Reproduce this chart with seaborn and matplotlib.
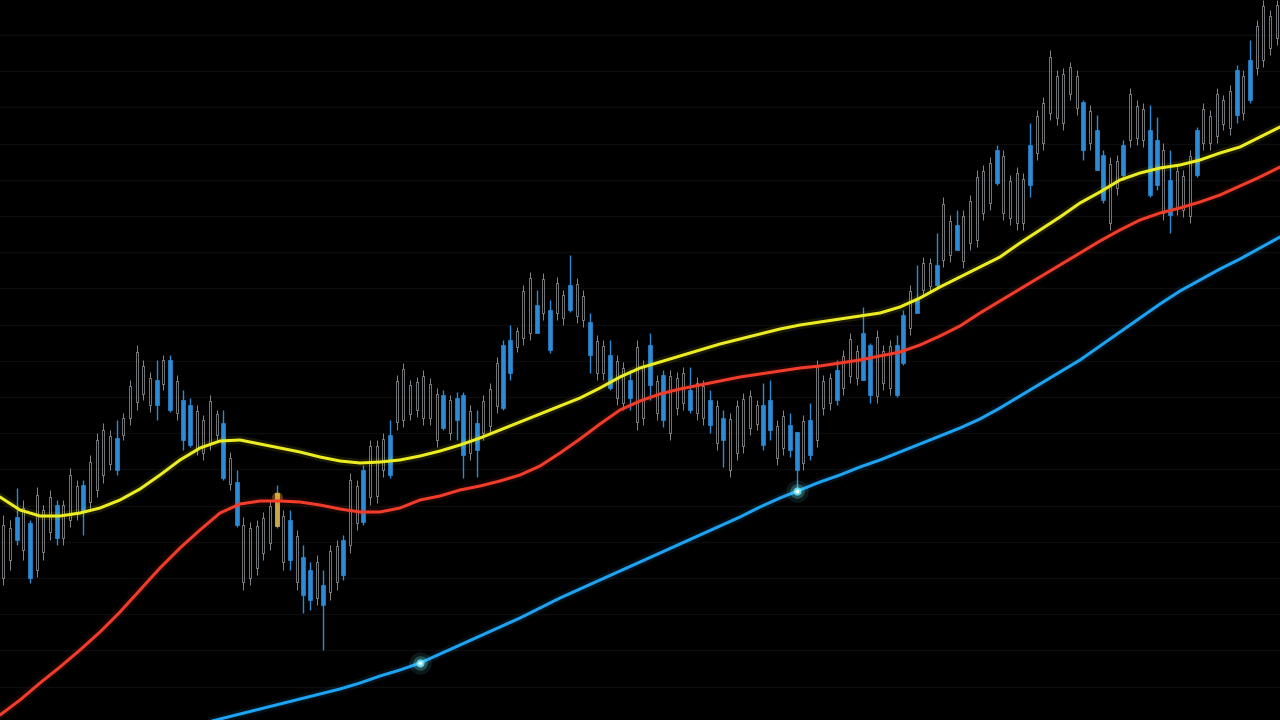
#!/usr/bin/env python3
"""Dark candlestick chart with three smooth moving averages."""
import matplotlib
matplotlib.use("Agg")
import matplotlib.pyplot as plt
import numpy as np
import pandas as pd
import seaborn as sns

# candles (price units, one per bar)
high = [205, 200, 232, 220, 200, 233, 215, 230, 220, 220, 252, 240, 240, 265, 287, 297,
        290, 300, 307, 340, 375, 360, 348, 360, 365, 365, 345, 330, 322, 315, 305, 325,
        310, 310, 268, 250, 203, 198, 200, 208, 220, 235, 210, 210, 190, 175, 158, 165,
        150, 175, 180, 185, 247, 240, 255, 280, 280, 287, 300, 345, 357, 340, 343, 350,
        342, 332, 330, 325, 328, 328, 315, 310, 325, 337, 363, 380, 395, 393, 435, 448,
        430, 447, 420, 443, 430, 465, 442, 430, 407, 385, 380, 380, 365, 358, 350, 380,
        360, 387, 345, 350, 350, 348, 353, 353, 343, 340, 330, 320, 310, 307, 320, 327,
        330, 320, 337, 340, 300, 310, 307, 288, 305, 317, 360, 345, 347, 360, 370, 387,
        375, 413, 377, 390, 375, 380, 385, 410, 435, 455, 463, 462, 487, 523, 505, 510,
        510, 525, 550, 555, 563, 575, 570, 545, 553, 547, 597, 610, 623, 670, 650, 652,
        658, 650, 620, 615, 605, 570, 563, 565, 580, 632, 620, 617, 615, 603, 577, 570,
        555, 550, 570, 593, 617, 610, 632, 625, 635, 655, 650, 680, 700, 720, 710, 720]
low = [135, 150, 175, 160, 137, 143, 160, 180, 175, 175, 193, 200, 185, 210, 223, 237,
       250, 245, 280, 295, 310, 320, 308, 300, 330, 308, 300, 270, 273, 265, 260, 270,
       280, 240, 230, 193, 130, 135, 145, 160, 170, 192, 150, 150, 130, 107, 110, 115,
       70, 120, 130, 140, 167, 190, 195, 215, 217, 243, 242, 290, 293, 300, 303, 295,
       295, 273, 290, 280, 280, 242, 260, 243, 280, 287, 307, 310, 340, 368, 375, 380,
       387, 400, 367, 400, 395, 408, 397, 393, 347, 340, 340, 330, 315, 310, 310, 290,
       295, 320, 300, 293, 280, 305, 310, 307, 300, 295, 287, 270, 253, 243, 260, 267,
       285, 290, 270, 280, 255, 265, 263, 230, 250, 260, 273, 305, 310, 315, 325, 337,
       335, 340, 317, 317, 330, 325, 323, 355, 385, 407, 423, 428, 433, 453, 458, 470,
       452, 470, 473, 500, 510, 535, 500, 495, 490, 490, 523, 560, 570, 600, 595, 590,
       620, 605, 560, 570, 550, 517, 490, 525, 540, 573, 575, 573, 523, 530, 500, 487,
       505, 503, 497, 543, 570, 570, 577, 590, 585, 597, 600, 617, 645, 653, 665, 675]
open_ = [142, 160, 203, 170, 197, 150, 168, 188, 215, 182, 200, 206, 235, 218, 230, 245,
         256, 282, 285, 302, 318, 326, 315, 340, 336, 360, 307, 320, 315, 272, 267, 277,
         285, 297, 236, 238, 138, 142, 152, 167, 177, 227, 158, 200, 138, 163, 150, 122,
         135, 128, 138, 180, 175, 197, 250, 223, 224, 250, 285, 298, 300, 306, 310, 302,
         302, 280, 325, 287, 322, 325, 267, 297, 287, 294, 314, 375, 380, 373, 382, 387,
         415, 407, 410, 407, 402, 435, 404, 400, 398, 347, 347, 365, 322, 317, 340, 298,
         302, 375, 307, 345, 287, 312, 317, 330, 307, 302, 320, 277, 302, 250, 267, 274,
         292, 296, 315, 320, 262, 272, 295, 288, 257, 300, 280, 312, 317, 350, 332, 344,
         342, 387, 375, 324, 337, 332, 375, 405, 392, 420, 430, 434, 455, 460, 465, 495,
         459, 477, 480, 507, 517, 570, 507, 502, 497, 497, 575, 567, 577, 607, 602, 597,
         626, 612, 618, 577, 590, 565, 497, 532, 575, 580, 582, 580, 590, 580, 507, 540,
         512, 510, 504, 590, 577, 577, 584, 596, 592, 650, 607, 660, 652, 660, 672, 682]
close = [195, 192, 180, 212, 142, 225, 210, 223, 182, 215, 245, 234, 208, 258, 280, 290,
         284, 250, 302, 334, 368, 354, 342, 315, 360, 310, 339, 280, 275, 309, 300, 319,
         306, 242, 262, 195, 195, 192, 194, 202, 214, 194, 204, 160, 184, 125, 120, 158,
         115, 169, 174, 145, 240, 234, 198, 274, 274, 281, 245, 339, 351, 335, 338, 344,
         336, 326, 292, 320, 300, 265, 309, 270, 319, 331, 357, 312, 347, 389, 429, 442,
         387, 441, 370, 437, 425, 410, 436, 424, 365, 379, 374, 332, 359, 352, 322, 373,
         354, 335, 339, 300, 344, 342, 347, 310, 337, 334, 295, 314, 280, 301, 314, 321,
         324, 315, 275, 290, 294, 304, 270, 250, 299, 265, 353, 339, 342, 320, 364, 381,
         369, 340, 325, 383, 369, 374, 325, 357, 429, 407, 457, 457, 435, 516, 499, 470,
         504, 519, 543, 549, 557, 537, 564, 539, 547, 541, 535, 604, 617, 663, 644, 646,
         653, 644, 570, 609, 550, 520, 556, 559, 545, 626, 614, 611, 525, 535, 570, 505,
         549, 544, 564, 545, 611, 604, 626, 620, 629, 605, 644, 620, 694, 714, 704, 715]

# moving averages, one value every 3 bars
ma_fast = [223, 210, 204, 204, 207, 212, 220, 231, 245, 260, 272, 279, 280, 276, 272, 268,
           263, 259, 257, 258, 260, 264, 269, 275, 282, 290, 298, 306, 314, 322, 332, 343,
           352, 358, 364, 370, 376, 381, 386, 391, 395, 398, 401, 404, 407, 413, 422, 433,
           443, 453, 463, 477, 490, 503, 517, 528, 540, 547, 552, 555, 560, 567, 573, 583, 593]
ma_mid = [5, 20, 37, 53, 70, 88, 108, 130, 152, 172, 190, 207, 216, 219, 219, 218,
          215, 211, 208, 208, 212, 220, 224, 230, 234, 239, 245, 254, 267, 281, 296, 310,
          319, 326, 331, 335, 339, 343, 346, 349, 352, 354, 357, 360, 364, 368, 375, 384,
          394, 407, 419, 431, 443, 455, 467, 479, 490, 500, 507, 512, 518, 525, 534, 543, 553]
ma_slow = [None] * 10 + [
    -4, 1, 6, 11, 16, 21, 26, 31, 37, 44, 50, 57, 66, 75, 84, 93,
    102, 112, 122, 131, 140, 149, 158, 167, 176, 185, 194, 203, 213, 222, 230, 238,
    245, 253, 260, 268, 276, 284, 292, 301, 312, 324, 336, 348, 360, 374, 388, 402,
    416, 429, 440, 451, 461, 472, 483]
MA_STEP = 3

# touches of the slow average
signal_bar = [62.5, 119]
signal_price = [57, 229]
highlight_bar = [41]

BG = "#000000"
GRID = "#0d0d0d"
BLUE_CANDLE = "#2b8bd6"
WHITE_CANDLE = "#b4b8bc"
LINE_COLORS = {"fast": "#ecec22", "mid": "#f03c28", "slow": "#1ea2f2"}


def main() -> None:
    sns.set_theme(style="dark", rc={"axes.facecolor": BG, "figure.facecolor": BG})

    candles = pd.DataFrame({"high": high, "low": low, "open": open_, "close": close})
    candles["bar"] = np.arange(len(candles))
    candles["top"] = candles[["open", "close"]].max(axis=1)
    candles["bot"] = candles[["open", "close"]].min(axis=1)
    down = candles[candles["close"] < candles["open"]]
    up = candles[candles["close"] >= candles["open"]]
    hl = candles.loc[highlight_bar]

    ma_bar = np.arange(len(ma_fast)) * MA_STEP - 0.5
    ma = pd.concat([
        pd.DataFrame({"bar": ma_bar, "value": ma_fast, "line": "fast"}),
        pd.DataFrame({"bar": ma_bar, "value": ma_mid, "line": "mid"}),
        pd.DataFrame({"bar": ma_bar, "value": pd.to_numeric(pd.Series(ma_slow)), "line": "slow"}),
    ]).dropna()

    fig = plt.figure(figsize=(12.8, 7.2), dpi=100)
    ax = fig.add_axes([0, 0, 1, 1])
    ax.set_facecolor(BG)

    for y in np.arange(685, 0, -36.2):
        ax.axhline(y, color=GRID, lw=1.0, zorder=0)

    # hollow bullish candles
    ax.vlines(up["bar"], up["low"], up["bot"], color=WHITE_CANDLE, lw=0.7, alpha=0.75, zorder=2)
    ax.vlines(up["bar"], up["top"], up["high"], color=WHITE_CANDLE, lw=0.7, alpha=0.75, zorder=2)
    ax.bar(up["bar"], up["top"] - up["bot"], bottom=up["bot"], width=0.28,
           facecolor="none", edgecolor=WHITE_CANDLE, lw=0.6, alpha=0.75, zorder=2)

    # filled bearish candles
    ax.vlines(down["bar"], down["low"], down["high"], color=BLUE_CANDLE, lw=1.0, zorder=2)
    ax.bar(down["bar"], down["top"] - down["bot"], bottom=down["bot"], width=0.6,
           color=BLUE_CANDLE, edgecolor=BLUE_CANDLE, lw=0.5, zorder=2)

    # orange flare on the mid average
    ax.bar(hl["bar"], hl["top"] - hl["bot"], bottom=hl["bot"], width=0.6,
           color="#f0b020", edgecolor="#f0b020", lw=0.5, alpha=0.8, zorder=3)
    ax.scatter(hl["bar"], hl["high"] - 12, s=60, color="#ffb030", alpha=0.35, lw=0, zorder=3)

    # glow under the averages
    for name, grp in ma.groupby("line"):
        ax.plot(grp["bar"], grp["value"], color=LINE_COLORS[name], lw=6, alpha=0.1, zorder=3,
                solid_capstyle="round", solid_joinstyle="round")
    sns.lineplot(data=ma, x="bar", y="value", hue="line", palette=LINE_COLORS,
                 estimator=None, sort=False, lw=2.2, legend=False, ax=ax, zorder=4,
                 solid_joinstyle="round")

    for s, a in [(260, 0.1), (110, 0.25), (35, 0.8), (8, 1.0)]:
        ax.scatter(signal_bar, signal_price, s=s, color="#6ff0ff" if s > 8 else "white",
                   alpha=a, lw=0, zorder=5)

    ax.set_xlim(-0.5, len(candles) - 0.5)
    ax.set_ylim(0, 720)
    ax.set_xlabel("")
    ax.set_ylabel("")
    ax.set_axis_off()

    fig.savefig("out.png", dpi=100, facecolor=BG)
    plt.close(fig)


if __name__ == "__main__":
    main()
